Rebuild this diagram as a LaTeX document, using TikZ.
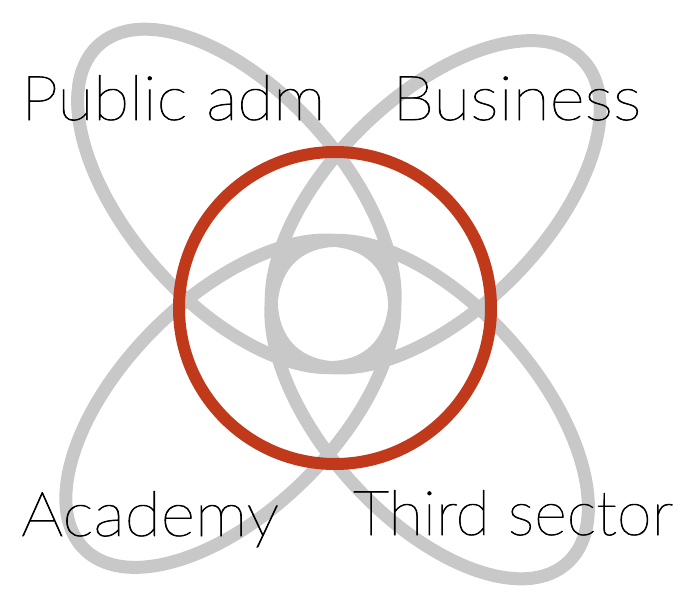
\documentclass[tikz,border=0pt]{standalone}
\usepackage{fontspec}
\newfontfamily\thinfont{Lato}[UprightFont=* Thin, FakeBold=1.2]
\definecolor{petalgray}{RGB}{200,200,200}
\definecolor{ringred}{RGB}{192,57,26}
\begin{document}
\begin{tikzpicture}[x=1pt,y=1pt]
\tikzset{
  petal/.style={draw=petalgray, line width=13pt},
  ring/.style={draw=ringred, line width=12pt},
  lbl/.style={anchor=base west, inner sep=0pt, text=black, transform shape, font=\fontsize{62}{62}\thinfont}
}
\useasboundingbox (-333,-294) rectangle (355,304);
\begin{scope}[rotate=-1.7, yscale=1.03]
  \foreach \ang in {45,135,225,315}
    \draw[petal, rotate around={\ang:(0,0)}] (141,0) ellipse [x radius=203, y radius=105];
\end{scope}
\draw[ring] (2,-4) circle [radius=156];
\node[lbl, xscale=1.064] (pub) at (-312,184) {Public adm};
\node[lbl, xscale=1.094] (bus) at (59,184) {Business};
\node[lbl, xscale=1.068] (aca) at (-312,-232) {Academy};
\node[lbl, xscale=1.017] (thi) at (20,-231) {Third sector};
\end{tikzpicture}
\end{document}
